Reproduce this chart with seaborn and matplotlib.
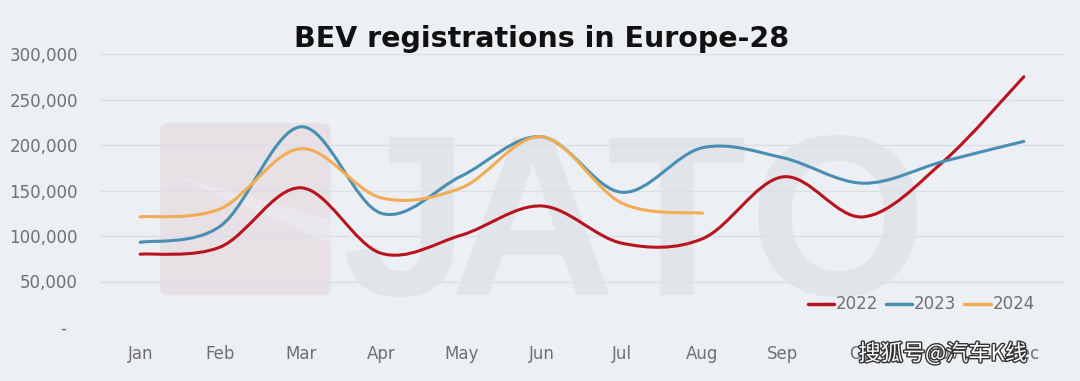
import numpy as np
import pandas as pd
import matplotlib
matplotlib.use("Agg")
import matplotlib.pyplot as plt
import matplotlib.patheffects as pe
from matplotlib.path import Path
from matplotlib.patches import PathPatch, FancyBboxPatch, Polygon
from matplotlib.lines import Line2D
import seaborn as sns

# Data
months = ["Jan", "Feb", "Mar", "Apr", "May", "Jun", "Jul", "Aug", "Sep", "Oct", "Nov", "Dec"]
bev_2022 = [80000, 88000, 153000, 81000, 101000, 133000, 92000, 97000, 165000, 121000, 182000, 275000]
bev_2023 = [93000, 111000, 220000, 125000, 166000, 209000, 148000, 197000, 186000, 158000, 182000, 204000]
bev_2024 = [121000, 130000, 196000, 142000, 153000, 209000, 136000, 125000]
years = ["2022", "2023", "2024"]
colors = ["#b8141f", "#4a8fb3", "#f2ac55"]
y_ticks = [0, 50000, 100000, 150000, 200000, 250000, 300000]

df = pd.DataFrame({
    "month": months * 2 + months[:len(bev_2024)],
    "idx": list(range(12)) * 2 + list(range(len(bev_2024))),
    "value": bev_2022 + bev_2023 + bev_2024,
    "year": ["2022"] * 12 + ["2023"] * 12 + ["2024"] * len(bev_2024),
})

BG = "#eceff3"
sns.set_theme(style="white")
plt.rcParams["font.family"] = ["DejaVu Sans", "Noto Sans CJK SC"]


def smooth_path(x, y):
    # Catmull-Rom style bezier through the points (drawing style only)
    pts = np.column_stack([x, y]).astype(float)
    n = len(pts)
    verts = [pts[0]]
    codes = [Path.MOVETO]
    for i in range(n - 1):
        p0 = pts[i - 1] if i > 0 else pts[i]
        p1, p2 = pts[i], pts[i + 1]
        p3 = pts[i + 2] if i + 2 < n else pts[i + 1]
        c1 = p1 + (p2 - p0) / 6.0
        c2 = p2 - (p3 - p1) / 6.0
        verts += [c1, c2, p2]
        codes += [Path.CURVE4] * 3
    return Path(verts, codes)


fig = plt.figure(figsize=(10.8, 3.81), dpi=100, facecolor=BG)
ax = fig.add_axes([100 / 1080, 1 - 327 / 381, 964 / 1080, 273 / 381])
ax.set_facecolor(BG)

# faint JATO watermark behind the chart
ax.add_patch(FancyBboxPatch((0.25, 35000), 2.12, 189000, boxstyle="round,pad=0,rounding_size=0.12",
                            facecolor="#e7e0e5", edgecolor="none", zorder=0, mutation_aspect=60000))
ax.add_patch(Polygon([[0.4, 167000], [2.37, 118000], [2.37, 92000]],
                     closed=True, facecolor="#ebe8ed", edgecolor="none", zorder=0))
for letter, xpos in zip("JATO", [3.3, 4.88, 6.67, 8.68]):
    ax.text(xpos, 35000, letter, fontsize=165, fontweight="bold", color="#e1e4e8",
            family="Liberation Sans", ha="center", va="baseline", zorder=0)

sns.lineplot(data=df, x="idx", y="value", hue="year", palette=colors, ax=ax,
             legend=False, linewidth=2, zorder=3)

# replace straight segments with smoothed curves
for line, c in zip(ax.get_lines(), colors):
    xy = line.get_xydata()
    xy = xy[~np.isnan(xy).any(axis=1)]
    ax.add_patch(PathPatch(smooth_path(xy[:, 0], xy[:, 1]), facecolor="none",
                           edgecolor=c, linewidth=2.2, zorder=3, capstyle="round"))
    line.set_visible(False)

ax.set_xlim(-0.5, 11.5)
ax.set_ylim(0, 300000)
ax.set_xticks(range(12))
ax.set_xticklabels(months)
ax.set_yticks(y_ticks)
ax.set_yticklabels(["-  "] + [f"{v:,}" for v in y_ticks[1:]])
ax.tick_params(axis="both", length=0, labelsize=12, labelcolor="#707070")
ax.tick_params(axis="y", pad=16)
ax.tick_params(axis="x", pad=13)
ax.grid(axis="y", color="#dcdfe3", linewidth=1, zorder=1)
ax.set_axisbelow(True)
ax.set_xlabel("")
ax.set_ylabel("")
sns.despine(ax=ax, left=True, bottom=True)

handles = [Line2D([], [], color=c, linewidth=2.5) for c in colors]
ax.legend(handles, years, loc="lower right", bbox_to_anchor=(0.985, -0.005), ncol=3,
          frameon=False, fontsize=12, handlelength=1.6, handletextpad=0.1,
          columnspacing=0.45, labelcolor="#707070")

fig.text(0.501, 0.897, "BEV registrations in Europe-28", ha="center", va="center",
         fontsize=20.5, fontweight="bold", color="#111111")

fig.text(0.873, 0.072, "搜狐号@汽车K线", ha="center", va="center", fontsize=16,
         color="white", family=["Noto Sans CJK SC", "DejaVu Sans"],
         path_effects=[pe.withStroke(linewidth=2, foreground="#333333")])

fig.savefig("out.png", dpi=100, facecolor=BG)
